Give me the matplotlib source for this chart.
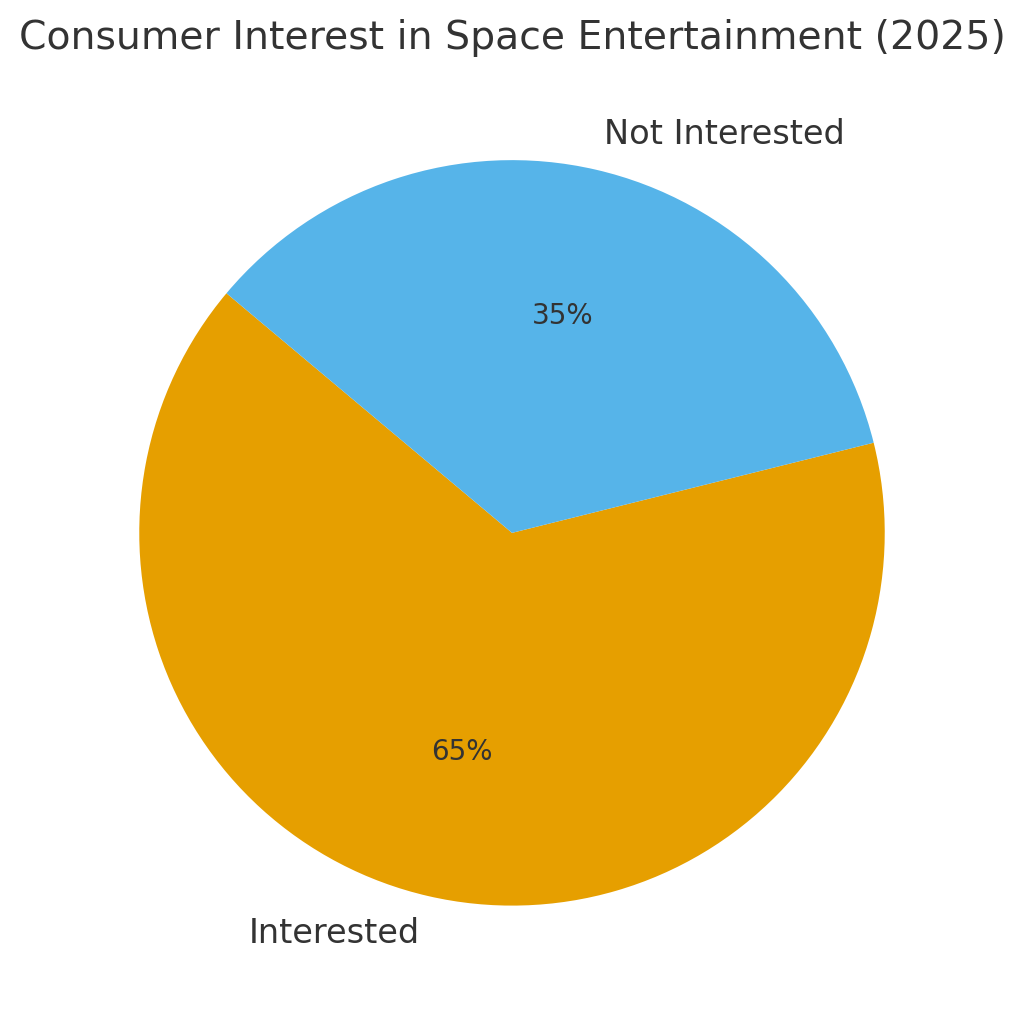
import matplotlib.pyplot as plt

labels = ["Interested", "Not Interested"]
shares = [65, 35]
colors = ["#E69F00", "#56B4E9"]

text_col = "#333333"

fig = plt.figure(figsize=(10.24, 10.2), dpi=100)
ax = fig.add_axes([0.045, 0.0196, 0.910, 0.914])

wedges, texts, autotexts = ax.pie(
    shares,
    labels=labels,
    colors=colors,
    autopct="%1.0f%%",
    startangle=140,
    textprops={"color": text_col},
)
for t in texts:
    t.set_fontsize(24.2)
for t in autotexts:
    t.set_fontsize(20)
ax.set_aspect("equal")

fig.suptitle("Consumer Interest in Space Entertainment (2025)",
             fontsize=28.4, color=text_col, y=0.981)

fig.savefig("out.png", dpi=100)
